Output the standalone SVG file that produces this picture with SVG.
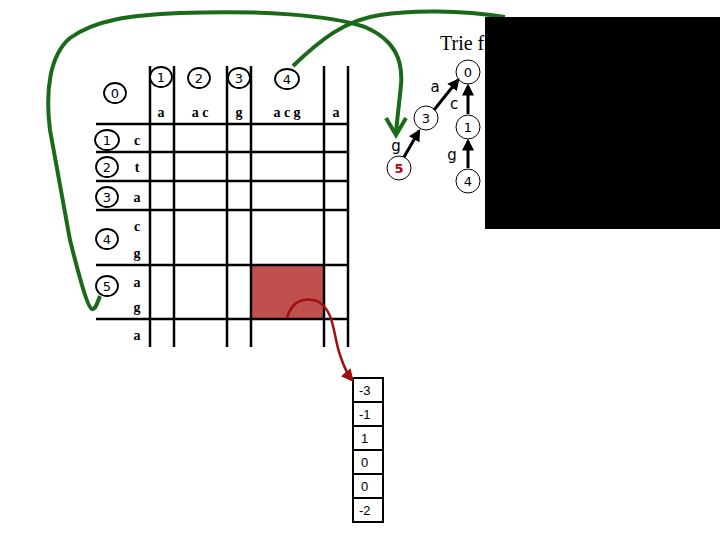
<svg xmlns="http://www.w3.org/2000/svg" width="720" height="540" viewBox="0 0 720 540">
<style>
.ln{stroke:#000;stroke-width:2.5;fill:none}
.c{fill:#fff;stroke:#000;stroke-width:1.8}
.n{font-family:"DejaVu Sans","Liberation Sans",sans-serif;font-size:13px;text-anchor:middle;dominant-baseline:central}
.l{font-family:"Liberation Serif",serif;font-weight:bold;font-size:14px;text-anchor:middle;dominant-baseline:central}
.tn{fill:#fff;stroke:#000;stroke-width:1}
.tl{font-family:"DejaVu Sans","Liberation Sans",sans-serif;font-size:15px;text-anchor:middle;dominant-baseline:central}
.ar{font-family:"Liberation Sans Narrow","Liberation Sans",sans-serif;font-size:13px;dominant-baseline:central}
.g{stroke:#1a6a1a;stroke-width:4;fill:none}
.e{stroke:#000;stroke-width:3;fill:none;marker-end:url(#ah)}
</style>
<defs>
<marker id="ah" viewBox="0 0 10 10" refX="8" refY="5" markerWidth="4" markerHeight="4" orient="auto"><path d="M0,0L10,5L0,10z" fill="#000"/></marker>
<marker id="rh" viewBox="0 0 10 10" refX="8" refY="5" markerWidth="5" markerHeight="5" orient="auto"><path d="M0,0L10,5L0,10z" fill="#a01010"/></marker>
</defs>
<rect width="720" height="540" fill="#fff"/>
<g id="table">
<rect x="251" y="265" width="73" height="54" fill="#c0504d"/>
<path class="ln" d="M150 66V347M174 66V347M227 66V347M251 66V347M324 66V347M348 66V347"/>
<path class="ln" d="M96 124H348M96 152H348M96 181H348M96 210H348M96 265H348M96 319H348"/>
</g>
<g id="col-headers">
<ellipse class="c" cx="161" cy="77" rx="11" ry="10"/><text class="n" x="161" y="77">1</text>
<ellipse class="c" cx="199" cy="78" rx="11" ry="10"/><text class="n" x="199" y="78">2</text>
<ellipse class="c" cx="239" cy="78" rx="11" ry="10"/><text class="n" x="239" y="78">3</text>
<ellipse class="c" cx="287" cy="79" rx="12" ry="10"/><text class="n" x="287" y="79">4</text>
<text class="l" x="161" y="112">a</text>
<text class="l" x="200" y="112">a c</text>
<text class="l" x="239" y="112">g</text>
<text class="l" x="287" y="112">a c g</text>
<text class="l" x="336" y="112">a</text>
</g>
<g id="row-headers">
<ellipse class="c" cx="115" cy="93" rx="11" ry="10"/><text class="n" x="115" y="93">0</text>
<ellipse class="c" cx="107" cy="140" rx="12" ry="10"/><text class="n" x="107" y="140">1</text>
<ellipse class="c" cx="107" cy="167" rx="11" ry="10"/><text class="n" x="107" y="167">2</text>
<ellipse class="c" cx="107" cy="197" rx="11" ry="10"/><text class="n" x="107" y="197">3</text>
<ellipse class="c" cx="107" cy="239" rx="11" ry="10"/><text class="n" x="107" y="239">4</text>
<ellipse class="c" cx="107" cy="286" rx="11" ry="10"/><text class="n" x="107" y="286">5</text>
<text class="l" x="137" y="140">c</text>
<text class="l" x="137" y="167">t</text>
<text class="l" x="137" y="197">a</text>
<text class="l" x="137" y="226">c</text>
<text class="l" x="137" y="253">g</text>
<text class="l" x="137" y="282">a</text>
<text class="l" x="137" y="307">g</text>
<text class="l" x="137" y="335">a</text>
</g>
<g id="trie">
<text x="440" y="50" font-family="Liberation Serif,serif" font-size="20">Trie f</text>
<circle id="t0" class="tn" cx="468" cy="72" r="12"/><text class="n" x="468" y="72" font-size="11">0</text>
<circle id="t3" class="tn" cx="426" cy="118" r="12"/><text class="n" x="426" y="118" font-size="11">3</text>
<circle id="t1" class="tn" cx="468" cy="127" r="12"/><text class="n" x="468" y="127" font-size="11">1</text>
<circle id="t5" class="tn" cx="399" cy="168" r="12"/><text class="n" x="399" y="168" font-size="11" fill="#c00000" font-weight="bold">5</text>
<circle id="t4" class="tn" cx="468" cy="181" r="12"/><text class="n" x="468" y="181" font-size="11">4</text>
<text class="tl" x="435" y="87">a</text>
<text class="tl" x="454" y="104">c</text>
<text class="tl" x="396" y="146">g</text>
<text class="tl" x="452" y="155">g</text>
</g>
<g id="array">
<path class="ln" d="M353 378H383V522H353ZM353 402H383M353 426H383M353 450H383M353 474H383M353 498H383" style="stroke-width:2"/>
<text class="ar" x="359" y="390">-3</text>
<text class="ar" x="359" y="414">-1</text>
<text class="ar" x="361" y="438">1</text>
<text class="ar" x="361" y="462">0</text>
<text class="ar" x="361" y="486">0</text>
<text class="ar" x="359" y="510">-2</text>
</g>
<g id="connectors">
<path class="e" d="M434 110L458 80"/>
<path class="e" d="M404 157L419 131"/>
<path class="e" d="M468 114V86"/>
<path class="e" d="M468 168V141"/>
<path class="g" d="M100 296C97 304 95 310 92 309C88 308 80 280 70 240L50 130C45 90 50 55 70 38C95 20 130 15 180 13C260 10 330 15 365 27C395 40 403 60 401 85C399 105 397 120 396 133"/>
<polyline class="g" points="386,118 396,135 406,118"/>
<path class="g" d="M293 66C320 40 345 20 380 15C410 10 460 10 505 17"/>
<path d="M287 318C292 300 305 297 317 301C335 310 333 335 340 355C345 370 348 375 352 380" stroke="#a01010" stroke-width="2.5" fill="none" marker-end="url(#rh)"/>
</g>
<rect x="485" y="17" width="235" height="212" fill="#000"/>
</svg>
